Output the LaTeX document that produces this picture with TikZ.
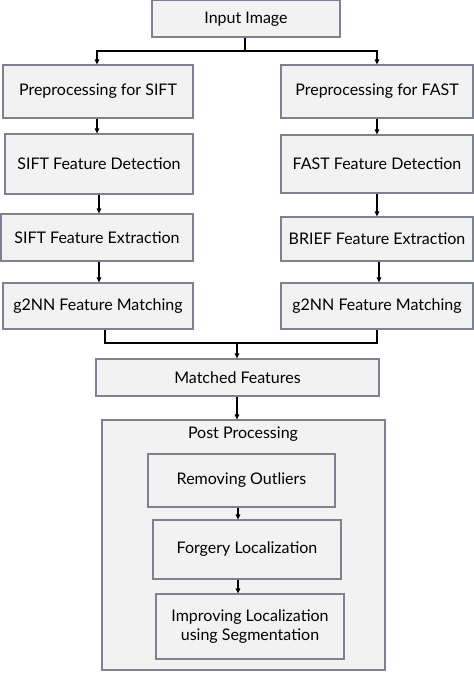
\documentclass[tikz,border=0pt]{standalone}
\usepackage{fontspec}
\setmainfont{Lato}
\usetikzlibrary{arrows.meta}
\definecolor{boxfill}{HTML}{F2F2F2}
\definecolor{boxline}{HTML}{7F8090}
\tikzset{
  bx/.style={draw=boxline, fill=boxfill, line width=1.1pt, inner sep=0pt, font=\fontsize{16}{19}\selectfont, align=center},
  conn/.style={draw=black, line width=1.3pt},
  arr/.style={conn, -{Triangle[length=5pt,width=4.5pt]}}
}
\newcommand{\bxat}[6]{\node[bx, minimum width=#4-#2, minimum height=#5-#3] (#1) at ({(#2+#4)/2},{(#3+#5)/2}) {#6};}
\begin{document}
\begin{tikzpicture}[x=1pt,y=-1pt]
\useasboundingbox (0,0) rectangle (474,673);
% outer
\node[draw=boxline, fill=boxfill, line width=1.1pt, minimum width=283pt, minimum height=250pt, inner sep=0pt] (post) at (243.5,545) {};
\node[font=\fontsize{16}{19}\selectfont] (posttitle) at (243,434) {Post Processing};
\bxat{inp}{152}{0.6}{340}{37}{Input Image}
\bxat{pre1}{3}{65}{193}{118}{Preprocessing for SIFT}
\bxat{pre2}{281}{65}{473}{118}{Preprocessing for FAST}
\bxat{det1}{5}{134}{193}{194}{SIFT Feature Detection}
\bxat{det2}{281}{135}{473}{193}{FAST Feature Detection}
\bxat{ext1}{1}{214}{193}{261}{SIFT Feature Extraction}
\bxat{ext2}{281}{217}{473}{261}{BRIEF Feature Extraction}
\bxat{mat1}{3}{283}{193}{329}{g2NN Feature Matching}
\bxat{mat2}{281}{283}{473}{329}{g2NN Feature Matching}
\bxat{mf}{96}{359}{379}{396}{Matched Features}
\bxat{ro}{148}{454}{335}{507}{Removing Outliers}
\bxat{fl}{153}{520}{341}{579}{Forgery Localization}
\bxat{il}{156}{594}{344}{659}{Improving Localization\\using Segmentation}
% connectors
\coordinate (split) at (245,51);
\coordinate (merge) at (237,343);
\draw[conn] (inp.south -| split) -- (split);
\draw[arr] (split) -| (pre1.north -| 97,0);
\draw[arr] (split) -| (pre2.north -| 377,0);
\draw[arr] (pre1.south -| 97,0) -- (det1.north -| 97,0);
\draw[arr] (pre2.south -| 377,0) -- (det2.north -| 377,0);
\draw[arr] (det1.south -| 99,0) -- (ext1.north -| 99,0);
\draw[arr] (det2.south -| 377,0) -- (ext2.north -| 377,0);
\draw[arr] (ext1.south -| 99,0) -- (mat1.north -| 99,0);
\draw[arr] (ext2.south -| 379,0) -- (mat2.north -| 379,0);
\draw[conn] (mat1.south -| 105,0) |- (merge) -| (mat2.south -| 377,0);
\draw[arr] (merge) -- (mf.north -| merge);
\draw[arr] (mf.south -| merge) -- (post.north -| merge);
\draw[arr] (ro.south -| 238,0) -- (fl.north -| 238,0);
\draw[arr] (fl.south -| 238,0) -- (il.north -| 238,0);
\end{tikzpicture}
\end{document}
